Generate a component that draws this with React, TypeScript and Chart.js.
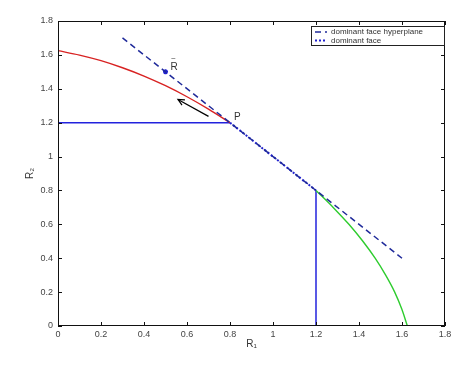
import React, { useEffect, useRef } from "react";
import { Chart, registerables } from "chart.js";

Chart.register(...registerables);

const xTicks = [0, 0.2, 0.4, 0.6, 0.8, 1, 1.2, 1.4, 1.6, 1.8];
const yTicks = [0, 0.2, 0.4, 0.6, 0.8, 1, 1.2, 1.4, 1.6, 1.8];

const redX = [0, 0.1, 0.2, 0.3, 0.4, 0.5, 0.6, 0.7, 0.8];
const redY = [1.625, 1.599, 1.566, 1.524, 1.475, 1.418, 1.353, 1.28, 1.2];

const greenX = [1.2, 1.28, 1.353, 1.418, 1.475, 1.524, 1.566, 1.599, 1.625];
const greenY = [0.8, 0.7, 0.6, 0.5, 0.4, 0.3, 0.2, 0.1, 0];

const hyperX = [0.3, 1.6];
const hyperY = [1.7, 0.4];

const faceX = [0.8, 1.2];
const faceY = [1.2, 0.8];

const hLineX = [0, 0.8];
const hLineY = [1.2, 1.2];

const vLineX = [1.2, 1.2];
const vLineY = [0, 0.8];

const arrowX = [0.7, 0.558];
const arrowY = [1.237, 1.337];

const rTildeX = [0.5];
const rTildeY = [1.5];

const pointP = { x: 0.8, y: 1.2 };

const legendLabels = ["dominant face hyperplane", "dominant face"];

const zip = (xs: number[], ys: number[]) => xs.map((x, i) => ({ x, y: ys[i] }));

const FONT = "'Liberation Sans', Arial, sans-serif";

const overlayPlugin = {
  id: "overlay",
  afterDatasetsDraw(chart: any) {
    const { ctx, chartArea } = chart;
    const xs = chart.scales.x;
    const ys = chart.scales.y;
    const { left, right, top, bottom } = chartArea;
    ctx.save();
    // box
    ctx.strokeStyle = "#111";
    ctx.lineWidth = 1;
    ctx.strokeRect(left + 0.5, top + 0.5, right - left - 1, bottom - top - 1);
    // inward ticks
    const tl = 4;
    ctx.beginPath();
    xTicks.forEach((v) => {
      const px = Math.round(xs.getPixelForValue(v)) + 0.5;
      ctx.moveTo(px, bottom);
      ctx.lineTo(px, bottom - tl);
      ctx.moveTo(px, top);
      ctx.lineTo(px, top + tl);
    });
    yTicks.forEach((v) => {
      const py = Math.round(ys.getPixelForValue(v)) + 0.5;
      ctx.moveTo(left, py);
      ctx.lineTo(left + tl, py);
      ctx.moveTo(right, py);
      ctx.lineTo(right - tl, py);
    });
    ctx.stroke();

    // arrowhead
    const ax0 = xs.getPixelForValue(arrowX[0]);
    const ay0 = ys.getPixelForValue(arrowY[0]);
    const ax1 = xs.getPixelForValue(arrowX[1]);
    const ay1 = ys.getPixelForValue(arrowY[1]);
    const ang = Math.atan2(ay1 - ay0, ax1 - ax0);
    const hl = 7;
    ctx.strokeStyle = "#000";
    ctx.lineWidth = 1.2;
    ctx.beginPath();
    ctx.moveTo(ax1 + hl * Math.cos(ang + Math.PI - 0.45), ay1 + hl * Math.sin(ang + Math.PI - 0.45));
    ctx.lineTo(ax1, ay1);
    ctx.lineTo(ax1 + hl * Math.cos(ang + Math.PI + 0.45), ay1 + hl * Math.sin(ang + Math.PI + 0.45));
    ctx.stroke();

    // labels
    ctx.fillStyle = "#333";
    ctx.font = `10px ${FONT}`;
    ctx.textBaseline = "middle";
    ctx.textAlign = "left";
    ctx.fillText("P", xs.getPixelForValue(pointP.x) + 4, ys.getPixelForValue(pointP.y) - 5);
    const rx = xs.getPixelForValue(rTildeX[0]) + 5;
    const ry = ys.getPixelForValue(rTildeY[0]) - 5;
    ctx.fillText("R", rx, ry);
    ctx.font = `8px ${FONT}`;
    ctx.fillText("~", rx + 0.5, ry - 8);

    // axis titles
    ctx.fillStyle = "#333";
    ctx.font = `10px ${FONT}`;
    ctx.textAlign = "center";
    ctx.fillText("R\u2081", (left + right) / 2, 344);
    ctx.save();
    ctx.translate(30, (top + bottom) / 2);
    ctx.rotate(-Math.PI / 2);
    ctx.fillText("R\u2082", 0, 0);
    ctx.restore();

    // legend
    const lx0 = 311;
    const ly0 = 26;
    const lw = right - lx0;
    const lh = 20;
    ctx.fillStyle = "#fff";
    ctx.fillRect(lx0, ly0, lw, lh);
    ctx.strokeStyle = "#222";
    ctx.lineWidth = 1;
    ctx.strokeRect(lx0 + 0.5, ly0 + 0.5, lw - 1, lh - 1);
    const rows = [
      { ds: chart.data.datasets[0], y: ly0 + 6 },
      { ds: chart.data.datasets[1], y: ly0 + 14.5 },
    ];
    ctx.font = `8px ${FONT}`;
    ctx.textAlign = "left";
    rows.forEach((r, i) => {
      ctx.strokeStyle = r.ds.borderColor;
      ctx.lineWidth = r.ds.borderWidth;
      ctx.setLineDash(r.ds.borderDash || []);
      ctx.beginPath();
      ctx.moveTo(lx0 + 4, r.y);
      ctx.lineTo(lx0 + 16, r.y);
      ctx.stroke();
      ctx.setLineDash([]);
      ctx.fillStyle = "#333";
      ctx.fillText(legendLabels[i], lx0 + 20, r.y);
    });
    ctx.restore();
  },
};

export default function App() {
  const ref = useRef<HTMLCanvasElement | null>(null);
  useEffect(() => {
    document.body.style.margin = "0";
    if (!ref.current) return;
    const lineDs = (label: string, data: any[], color: string, width: number, dash?: number[], extra?: any) => ({
      label,
      data,
      showLine: true,
      borderColor: color,
      backgroundColor: color,
      borderWidth: width,
      borderDash: dash || [],
      pointRadius: 0,
      fill: false,
      ...(extra || {}),
    });
    const chart = new Chart(ref.current, {
      type: "scatter",
      data: {
        datasets: [
          lineDs(legendLabels[0], zip(hyperX, hyperY), "#1f2a9a", 1.5, [6, 4]),
          lineDs(legendLabels[1], zip(faceX, faceY), "#2020d0", 2, [2, 2]),
          lineDs("red", zip(redX, redY), "#d82222", 1.4, undefined, { cubicInterpolationMode: "monotone" }),
          lineDs("green", zip(greenX, greenY), "#2ecc2e", 1.4, undefined, { cubicInterpolationMode: "monotone" }),
          lineDs("h", zip(hLineX, hLineY), "#2222dd", 1.5),
          lineDs("v", zip(vLineX, vLineY), "#2222dd", 1.5),
          lineDs("arrow", zip(arrowX, arrowY), "#000000", 1.2),
          {
            label: "Rtilde",
            data: zip(rTildeX, rTildeY),
            showLine: false,
            pointStyle: "star",
            pointRadius: 2.5,
            borderColor: "#2020d0",
            backgroundColor: "#2020d0",
            borderWidth: 1.5,
          },
        ],
      },
      options: {
        animation: false,
        responsive: false,
        maintainAspectRatio: false,
        layout: { padding: { top: 21, right: 29, left: 0, bottom: 0 } },
        plugins: { legend: { display: false }, tooltip: { enabled: false } },
        scales: {
          x: {
            type: "linear",
            min: 0,
            max: 1.8,
            afterBuildTicks: (s: any) => {
              s.ticks = xTicks.map((v) => ({ value: v }));
            },
            afterFit: (s: any) => {
              s.height = 51;
            },
            ticks: {
              padding: 3,
              color: "#444",
              font: { family: FONT, size: 9 },
              maxRotation: 0,
              autoSkip: false,
              callback: (v: any) => String(Number(Number(v).toFixed(1))),
            },
            grid: { display: false, drawTicks: false },
            border: { display: false },
          },
          y: {
            type: "linear",
            min: 0,
            max: 1.8,
            afterBuildTicks: (s: any) => {
              s.ticks = yTicks.map((v) => ({ value: v }));
            },
            afterFit: (s: any) => {
              s.width = 58;
            },
            ticks: {
              padding: 5,
              color: "#444",
              font: { family: FONT, size: 9 },
              autoSkip: false,
              callback: (v: any) => String(Number(Number(v).toFixed(1))),
            },
            grid: { display: false, drawTicks: false },
            border: { display: false },
          },
        },
      },
      plugins: [overlayPlugin],
    } as any);
    return () => chart.destroy();
  }, []);
  return (
    <div style={{ width: 474, height: 377, background: "#fff" }}>
      <canvas ref={ref} width={474} height={377} style={{ display: "block" }} />
    </div>
  );
}
